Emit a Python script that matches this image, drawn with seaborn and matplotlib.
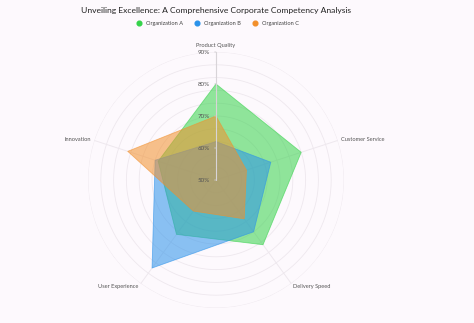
import numpy as np
import matplotlib
matplotlib.use("Agg")
import matplotlib.pyplot as plt
import seaborn as sns

# Competency dimensions (clockwise from the top)
categories = ["Product Quality", "Customer Service", "Delivery Speed",
              "User Experience", "Innovation"]
org_names = ["Organization A", "Organization B", "Organization C"]
org_a = [80, 78, 75, 71, 69]
org_b = [62, 68, 70, 84, 70]
org_c = [70, 60, 65, 62, 79]
tick_values = [50, 60, 70, 80, 90]
tick_labels = ["50%", "60%", "70%", "80%", "90%"]

R_MIN, R_MAX = 50, 90
BG = "#fdf9fd"
GRID = "#eee8ee"

sns.set_theme(style="white")
plt.rcParams["font.family"] = ["Lato", "DejaVu Sans"]
palette = sns.color_palette(["#35d34a", "#2b92ea", "#f2902c"])

W, H, DPI = 474, 323, 100
fig = plt.figure(figsize=(W / DPI, H / DPI), dpi=DPI, facecolor=BG)

cx, cy, rad = 216, 180, 128
ax = fig.add_axes([(cx - rad) / W, (H - cy - rad) / H, 2 * rad / W, 2 * rad / H],
                  projection="polar")
ax.set_facecolor("none")
ax.set_theta_offset(np.pi / 2)
ax.set_theta_direction(-1)
ax.set_ylim(0, R_MAX - R_MIN)
ax.spines["polar"].set_visible(False)
ax.grid(False)
ax.set_xticks([])
ax.set_yticks([])

n = len(categories)
angles = np.linspace(0, 2 * np.pi, n, endpoint=False)

# concentric split circles
th = np.linspace(0, 2 * np.pi, 361)
for rv in np.arange(4, R_MAX - R_MIN + 0.1, 4):
    ax.plot(th, np.full_like(th, rv), color=GRID, lw=0.6, zorder=1)

# spokes
for a in angles:
    ax.plot([a, a], [0, R_MAX - R_MIN + 0.8], color=GRID, lw=0.7, zorder=1)

# series polygons
for name, vals, col in zip(org_names, [org_a, org_b, org_c], palette):
    r = np.array(vals + vals[:1], dtype=float) - R_MIN
    t = np.append(angles, angles[0])
    ax.fill(t, r, color=col, alpha=0.55, lw=0, zorder=3)
    ax.plot(t, r, color=col, lw=0.6, alpha=0.6, zorder=3)

# value axis along the first spoke
ax.plot([0, 0], [0, R_MAX - R_MIN], color="#d8d4d8", lw=0.8, zorder=4)
for v, lab in zip(tick_values, tick_labels):
    rv = v - R_MIN
    ax.annotate("", xy=(0, rv), xytext=(-3, 0), textcoords="offset points",
                arrowprops=dict(arrowstyle="-", color="#cfcbcf", lw=0.6),
                annotation_clip=False, zorder=4)
    ax.annotate(lab, xy=(0, rv), xytext=(-4.5, 0), textcoords="offset points",
                ha="right", va="center", fontsize=4.5, color="#555555",
                annotation_clip=False, zorder=5)

# category labels around the chart
label_r = R_MAX - R_MIN + 1.2
for a, cat in zip(angles, categories):
    s, c = np.sin(a), np.cos(a)
    if abs(s) < 0.1:
        ha = "center"
    elif s > 0:
        ha = "left"
    else:
        ha = "right"
    va = "bottom" if c > 0.9 else "center"
    ax.text(a, label_r, cat, ha=ha, va=va, fontsize=4.1, color="#555555",
            clip_on=False, zorder=5)

# title
fig.text(cx / W, 1 - 10 / H, "Unveiling Excellence: A Comprehensive Corporate Competency Analysis",
         ha="center", va="center", fontsize=6.1, color="#222222")

# legend
handles = [plt.Line2D([], [], marker="o", ls="", markersize=3.4, color=c) for c in palette]
fig.legend(handles, org_names, loc="center", bbox_to_anchor=(cx / W, 1 - 23 / H),
           ncol=3, frameon=False, fontsize=4.1, handletextpad=0.3,
           columnspacing=1.4, labelcolor="#444444")

fig.savefig("out.png", dpi=DPI, facecolor=BG)
